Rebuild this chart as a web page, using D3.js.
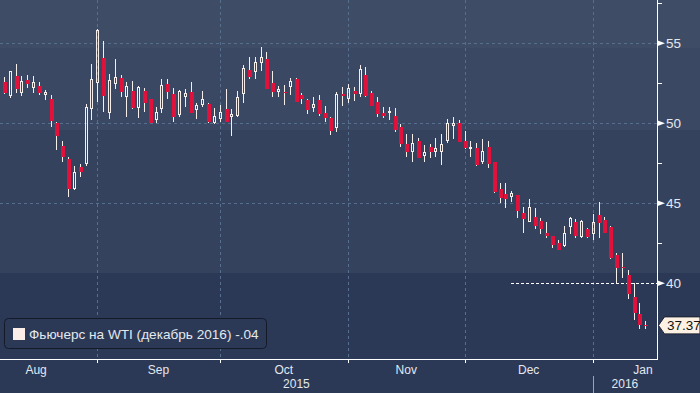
<!DOCTYPE html>
<html>
<head>
<meta charset="utf-8">
<script src="https://cdn.jsdelivr.net/npm/d3@7.9.0/dist/d3.min.js"></script>
<style>
  html, body { margin: 0; padding: 0; background: #2b3855; }
  svg { display: block; font-family: "Liberation Sans", Arial, sans-serif; }
</style>
</head>
<body>
<svg id="chart"></svg>
<script>
// Daily OHLC, Dec 2016 WTI futures, 10 Aug 2015 .. 15 Jan 2016 (one entry per session)
const openVals = [
  52.60, 51.73, 52.96, 51.91, 52.70, 52.22, 52.33, 51.79, 51.50, 50.00,
  48.58, 47.75, 45.89, 47.25, 47.46, 50.88, 52.54, 54.06, 50.66, 52.44,
  52.81, 51.66, 52.02, 50.94, 52.02, 51.50, 50.20, 50.88, 52.46, 51.83,
  50.52, 51.66, 51.94, 50.83, 51.13, 51.20, 50.00, 50.25, 50.88, 50.38,
  50.46, 51.81, 53.33, 53.23, 53.79, 54.00, 52.50, 51.96, 51.98, 52.25,
  52.75, 51.77, 51.46, 50.94, 51.46, 50.63, 50.33, 49.73, 51.83, 51.50,
  52.02, 51.81, 53.02, 51.91, 51.35, 50.66, 50.66, 50.46, 49.79, 48.69,
  48.23, 48.89, 47.96, 48.50, 48.23, 48.20, 48.90, 49.85, 50.00, 48.89,
  48.46, 48.44, 47.60, 48.50, 47.56, 45.89, 45.58, 45.38, 45.52, 44.38,
  43.81, 44.13, 43.90, 43.16, 42.96, 42.50, 42.33, 43.50, 43.85, 42.88,
  43.38, 43.06, 44.27, 43.96, 43.54, 41.77, 41.04, 40.52, 39.16, 38.08,
  37.40
];
const highVals = [
  52.90, 53.25, 53.70, 52.96, 53.00, 52.96, 52.60, 52.08, 51.77, 50.10,
  48.91, 47.88, 47.33, 47.46, 51.20, 53.70, 55.88, 55.16, 53.08, 54.02,
  53.02, 52.60, 52.64, 52.33, 52.19, 51.50, 51.04, 52.75, 52.75, 52.19,
  52.08, 52.13, 52.58, 51.29, 52.02, 51.29, 50.94, 51.14, 52.13, 50.88,
  52.02, 53.64, 54.16, 54.16, 54.79, 54.44, 53.29, 52.33, 52.40, 52.81,
  52.81, 51.91, 51.50, 51.66, 51.77, 51.08, 50.38, 51.98, 52.25, 52.44,
  52.29, 53.64, 53.54, 52.02, 51.66, 51.04, 51.04, 50.94, 49.94, 49.31,
  49.31, 49.06, 48.64, 48.69, 49.06, 49.35, 50.25, 50.41, 50.20, 49.52,
  48.89, 48.75, 49.02, 48.89, 47.56, 46.29, 46.29, 45.77, 45.52, 44.75,
  45.27, 44.73, 44.10, 43.85, 42.96, 42.70, 43.58, 44.16, 44.00, 43.96,
  43.48, 44.33, 45.10, 44.16, 43.58, 41.88, 41.90, 40.83, 40.00, 38.75,
  37.64
];
const lowVals = [
  51.85, 51.60, 51.90, 51.70, 52.20, 51.90, 51.77, 51.46, 49.79, 48.33,
  47.60, 45.41, 45.83, 46.66, 47.33, 50.20, 51.35, 50.72, 50.29, 52.13,
  51.66, 50.41, 50.88, 50.35, 50.72, 50.00, 50.04, 50.66, 51.50, 50.10,
  50.41, 51.00, 50.63, 50.29, 51.00, 50.04, 49.96, 50.10, 50.10, 49.20,
  50.41, 51.29, 52.77, 52.75, 53.29, 52.14, 51.63, 51.63, 51.14, 51.77,
  51.35, 51.20, 50.58, 50.72, 50.46, 50.10, 49.28, 49.48, 51.10, 51.25,
  51.41, 51.66, 51.66, 51.08, 50.41, 50.35, 50.20, 49.48, 48.54, 47.91,
  47.60, 47.81, 47.60, 47.81, 47.91, 47.42, 48.75, 49.00, 48.85, 48.38,
  47.88, 47.33, 47.44, 47.23, 45.66, 45.04, 44.73, 45.10, 44.06, 43.16,
  43.81, 43.39, 43.08, 42.81, 42.23, 42.08, 42.29, 43.06, 42.81, 42.81,
  42.81, 42.70, 42.83, 43.16, 41.54, 40.00, 40.35, 39.02, 37.71, 37.14,
  37.14
];
const closeVals = [
  51.88, 53.25, 52.13, 52.64, 52.47, 52.56, 51.91, 51.96, 50.16, 49.23,
  47.91, 45.89, 46.94, 46.97, 51.04, 52.75, 55.83, 51.71, 52.69, 52.88,
  51.97, 52.33, 50.94, 52.29, 51.29, 50.04, 50.69, 52.40, 51.97, 50.41,
  52.04, 51.91, 50.63, 51.14, 51.54, 50.10, 50.48, 50.69, 50.10, 50.58,
  51.63, 53.44, 52.91, 53.81, 54.13, 52.14, 51.98, 52.13, 51.91, 52.66,
  51.35, 51.52, 50.83, 51.19, 50.58, 50.31, 49.50, 51.81, 51.71, 52.19,
  51.83, 53.39, 51.71, 51.08, 50.56, 50.46, 50.77, 49.58, 48.69, 48.19,
  48.75, 47.81, 48.19, 48.19, 48.44, 48.70, 50.00, 50.00, 48.85, 48.48,
  48.50, 47.39, 48.27, 47.44, 45.73, 45.31, 45.27, 45.63, 44.54, 44.00,
  44.75, 43.60, 43.38, 42.98, 42.40, 42.08, 43.13, 44.10, 42.96, 43.90,
  42.91, 43.83, 43.75, 43.16, 41.60, 40.98, 41.00, 39.31, 38.13, 37.39,
  37.37
];

// session index of the first trading day of each month (Aug 3 .. Feb 1)
const monthNames = ['Aug', 'Sep', 'Oct', 'Nov', 'Dec', 'Jan'];
const monthStarts = [-5, 16, 37, 59, 79, 101, 120];
const yearLabels = ['2015', '2016'];
const yearBreak = 101;

const priceTicks = [40, 45, 50, 55];
const minorTicks = [42.5, 47.5, 52.5, 57.5];
const gridValues = [45, 50, 55];
const levelValue = 40;
const levelFrom = 87;

const legendLabel = 'Фьючерс на WTI (декабрь 2016) -.04';

// layout
const width = 700, height = 393;
const axisX = 657, axisY = 359;

const bands = [
  { y0: 0, y1: 48, color: '#3e4c66' },
  { y0: 48, y1: 130, color: '#3a4863' },
  { y0: 130, y1: 273, color: '#34425e' },
  { y0: 273, y1: 393, color: '#2c3956' }
];

const upColor = '#f6eeea';
const downColor = '#e0123c';
const gridColor = '#55708e';
const textColor = '#e3e8ef';

const svg = d3.select('#chart')
  .attr('width', width)
  .attr('height', height)
  .attr('viewBox', `0 0 ${width} ${height}`);

const x = d3.scaleLinear().domain([0, 110]).range([4, 645.3]);
const y = d3.scaleLinear().domain([40, 55]).range([283.3, 43.3]);
const px = (v) => Math.round(v) + 0.5;

// background bands
svg.selectAll('rect.band')
  .data(bands)
  .join('rect')
  .attr('class', 'band')
  .attr('x', 0)
  .attr('y', (d) => d.y0)
  .attr('width', width)
  .attr('height', (d) => d.y1 - d.y0)
  .attr('fill', (d) => d.color);

// grid
const grid = svg.append('g').attr('shape-rendering', 'crispEdges');
grid.selectAll('line.h')
  .data(gridValues)
  .join('line')
  .attr('x1', 0).attr('x2', axisX)
  .attr('y1', (d) => px(y(d))).attr('y2', (d) => px(y(d)))
  .attr('stroke', gridColor)
  .attr('stroke-dasharray', '3,3');

grid.selectAll('line.v')
  .data(monthStarts.slice(1, 6))
  .join('line')
  .attr('x1', (d) => px(x(d))).attr('x2', (d) => px(x(d)))
  .attr('y1', 0).attr('y2', axisY)
  .attr('stroke', gridColor)
  .attr('stroke-dasharray', '3,3');

// level line at 40
svg.append('line')
  .attr('x1', x(levelFrom)).attr('x2', axisX)
  .attr('y1', px(y(levelValue))).attr('y2', px(y(levelValue)))
  .attr('stroke', '#ffffff')
  .attr('stroke-dasharray', '3,2')
  .attr('shape-rendering', 'crispEdges');

// candles
const candles = svg.append('g').attr('shape-rendering', 'crispEdges');
openVals.forEach((open, i) => {
  const close = closeVals[i];
  const cx = Math.round(x(i));
  const yHi = Math.round(y(highVals[i]));
  const yLo = Math.round(y(lowVals[i]));
  let yTop = Math.round(y(Math.max(open, close)));
  let yBot = Math.round(y(Math.min(open, close)));
  if (yBot - yTop < 1) yBot = yTop + 1;

  // wick above and below the body
  candles.append('line')
    .attr('x1', cx + 0.5).attr('x2', cx + 0.5)
    .attr('y1', yHi).attr('y2', yTop)
    .attr('stroke', upColor);
  candles.append('line')
    .attr('x1', cx + 0.5).attr('x2', cx + 0.5)
    .attr('y1', yBot).attr('y2', yLo)
    .attr('stroke', upColor);

  if (close >= open) {
    candles.append('rect')
      .attr('x', cx - 0.5)
      .attr('y', yTop + 0.5)
      .attr('width', 2)
      .attr('height', Math.max(1, yBot - yTop - 1))
      .attr('fill', 'none')
      .attr('stroke', upColor);
  } else {
    candles.append('rect')
      .attr('x', cx - 1)
      .attr('y', yTop)
      .attr('width', 4)
      .attr('height', yBot - yTop)
      .attr('fill', downColor);
  }
});

// axes lines
svg.append('line')
  .attr('x1', px(axisX)).attr('x2', px(axisX))
  .attr('y1', 0).attr('y2', px(axisY))
  .attr('stroke', '#ffffff')
  .attr('shape-rendering', 'crispEdges');
svg.append('line')
  .attr('x1', 0).attr('x2', px(axisX))
  .attr('y1', px(axisY)).attr('y2', px(axisY))
  .attr('stroke', '#ffffff')
  .attr('shape-rendering', 'crispEdges');

// right axis: major ticks (arrow heads) + labels, minor ticks
const yAxis = svg.append('g');
priceTicks.forEach((v) => {
  const ty = y(v);
  yAxis.append('path')
    .attr('d', `M${axisX},${ty - 3}L${axisX + 8},${ty}L${axisX},${ty + 3}Z`)
    .attr('fill', '#ffffff');
  yAxis.append('text')
    .attr('x', axisX + 9)
    .attr('y', ty)
    .attr('dy', '0.36em')
    .attr('fill', textColor)
    .attr('font-size', 13.5)
    .text(v);
});
minorTicks.forEach((v) => {
  yAxis.append('line')
    .attr('x1', axisX).attr('x2', axisX + 5)
    .attr('y1', px(y(v))).attr('y2', px(y(v)))
    .attr('stroke', '#ffffff')
    .attr('shape-rendering', 'crispEdges');
});

// bottom axis: month ticks + labels, year labels
const xAxis = svg.append('g');
monthStarts.slice(1, 6).forEach((d) => {
  xAxis.append('line')
    .attr('x1', px(x(d))).attr('x2', px(x(d)))
    .attr('y1', axisY).attr('y2', axisY + 4)
    .attr('stroke', '#ffffff')
    .attr('shape-rendering', 'crispEdges');
});
monthNames.forEach((name, i) => {
  const mid = (monthStarts[i] + monthStarts[i + 1]) / 2;
  xAxis.append('text')
    .attr('x', Math.min(x(mid), axisX - 14))
    .attr('y', 373.5)
    .attr('text-anchor', 'middle')
    .attr('fill', textColor)
    .attr('font-size', 12)
    .text(name);
});
xAxis.append('line')
  .attr('x1', px(x(yearBreak))).attr('x2', px(x(yearBreak)))
  .attr('y1', 376).attr('y2', height)
  .attr('stroke', '#9aa3b3')
  .attr('shape-rendering', 'crispEdges');
[[0, x(yearBreak)], [x(yearBreak), axisX]].forEach(([a, b], i) => {
  xAxis.append('text')
    .attr('x', (a + b) / 2)
    .attr('y', 388)
    .attr('text-anchor', 'middle')
    .attr('fill', textColor)
    .attr('font-size', 12)
    .text(yearLabels[i]);
});

// last price marker
const last = closeVals[closeVals.length - 1];
const ly = y(last);
svg.append('path')
  .attr('d', `M${axisX + 1.5},${ly}L${axisX + 7.5},${ly - 8.5}L${width},${ly - 8.5}L${width},${ly + 8.5}L${axisX + 7.5},${ly + 8.5}Z`)
  .attr('fill', '#fcf1e3')
  .attr('stroke', '#1d2333');
svg.append('text')
  .attr('x', axisX + 10)
  .attr('y', ly)
  .attr('dy', '0.36em')
  .attr('fill', '#111111')
  .attr('font-size', 13.5)
  .text(last.toFixed(2));

// legend
const legend = svg.append('g');
legend.append('rect')
  .attr('x', 4.5).attr('y', 318.5)
  .attr('width', 262).attr('height', 30)
  .attr('rx', 4)
  .attr('fill', '#2c3956')
  .attr('stroke', '#151a28');
legend.append('rect')
  .attr('x', 13).attr('y', 328)
  .attr('width', 12).attr('height', 12)
  .attr('fill', '#fcefe9');
legend.append('text')
  .attr('x', 29)
  .attr('y', 339)
  .attr('fill', textColor)
  .attr('font-size', 13.6)
  .text(legendLabel);
</script>
</body>
</html>
